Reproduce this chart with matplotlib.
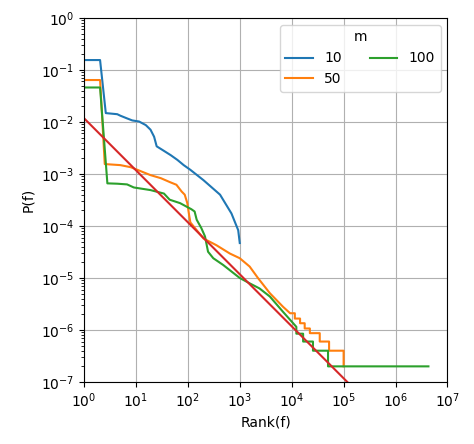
import matplotlib
matplotlib.use("Agg")
import matplotlib.pyplot as plt
import numpy as np
from matplotlib.ticker import NullLocator

# rank / probability, one pair of lists per m
ranks_10 = [1, 2.04, 2.63, 4.37, 5.01, 6.76, 8.51, 11.5, 15.5, 19.1, 22.4, 25.1,
            32.4, 46.8, 63.1, 83.2, 112, 200, 417, 692, 933, 1000]
p_10 = [0.155, 0.155, 0.0148, 0.0141, 0.0132, 0.0117, 0.0107, 0.0102, 0.0087,
        0.0071, 0.0052, 0.0034, 0.0029, 0.0023, 0.00186, 0.00148, 0.0012,
        0.00076, 0.0004, 0.000174, 0.000083, 0.000047]

ranks_50 = [1, 2.04, 2.51, 5.01, 7.94, 10.7, 19.1, 30.2, 44.7, 60.3, 75.9, 87.1,
            97.7, 107, 112, 200, 355, 646, 1000, 1550, 2240, 3800, 6800, 9330,
            11500, 11500, 14500, 14500, 17800, 17800, 22400, 22400, 34700, 34700,
            52500, 52500, 100000, 100000]
p_50 = [0.064, 0.064, 0.00155, 0.00148, 0.00135, 0.0012, 0.00095, 0.00083,
        0.0007, 0.00062, 0.00046, 0.0004, 0.000275, 0.000151, 0.000117, 5.75e-5,
        4.27e-5, 2.95e-5, 2.4e-5, 1.66e-5, 1.0e-5, 5.1e-6, 2.8e-6, 2.1e-6,
        2.1e-6, 1.66e-6, 1.66e-6, 1.35e-6, 1.35e-6, 1.07e-6, 1.07e-6, 8.7e-7,
        8.7e-7, 6e-7, 6e-7, 4e-7, 4e-7, 2e-7]

ranks_100 = [1, 2.04, 2.82, 4.37, 6.76, 9.12, 19.1, 34.7, 44.7, 70.8, 117, 135,
             148, 182, 214, 245, 309, 479, 1000, 1550, 2400, 3800, 6800, 12300,
             12300, 16600, 16600, 25700, 25700, 50100, 50100, 4300000]
p_100 = [0.046, 0.046, 6.6e-4, 6.5e-4, 6.3e-4, 5.5e-4, 4.9e-4, 4.2e-4, 3.2e-4,
         2.75e-4, 2.1e-4, 1.9e-4, 1.32e-4, 9.1e-5, 6.3e-5, 3.2e-5, 2.4e-5,
         1.78e-5, 1.0e-5, 7.9e-6, 6.3e-6, 4.4e-6, 2.24e-6, 1.15e-6, 8.5e-7,
         8.5e-7, 6e-7, 6e-7, 4e-7, 4e-7, 2e-7, 2e-7]

# power-law fit P(f) = amp * rank^exp
fit_amp = 0.0118
fit_exp = -1.0

fig = plt.figure(figsize=(4.74, 4.44), dpi=100)
ax = fig.add_axes([0.1772, 0.1396, 0.7668, 0.82])

ax.plot(ranks_10, p_10, label="10")
ax.plot(ranks_50, p_50, label="50")
ax.plot(ranks_100, p_100, label="100")

fit_x = np.array([1, ranks_100[-1]])
ax.plot(fit_x, fit_amp * fit_x ** fit_exp, color="C3")

ax.set_xscale("log")
ax.set_yscale("log")
ax.set_xlim(1, 1e7)
ax.set_ylim(1e-7, 1)
ax.xaxis.set_minor_locator(NullLocator())
ax.grid(True)

ax.set_xlabel("Rank(f)")
ax.set_ylabel("P(f)")
ax.legend(title="m", ncol=2, loc="upper right")

plt.savefig("out.png", dpi=100)
plt.close()
